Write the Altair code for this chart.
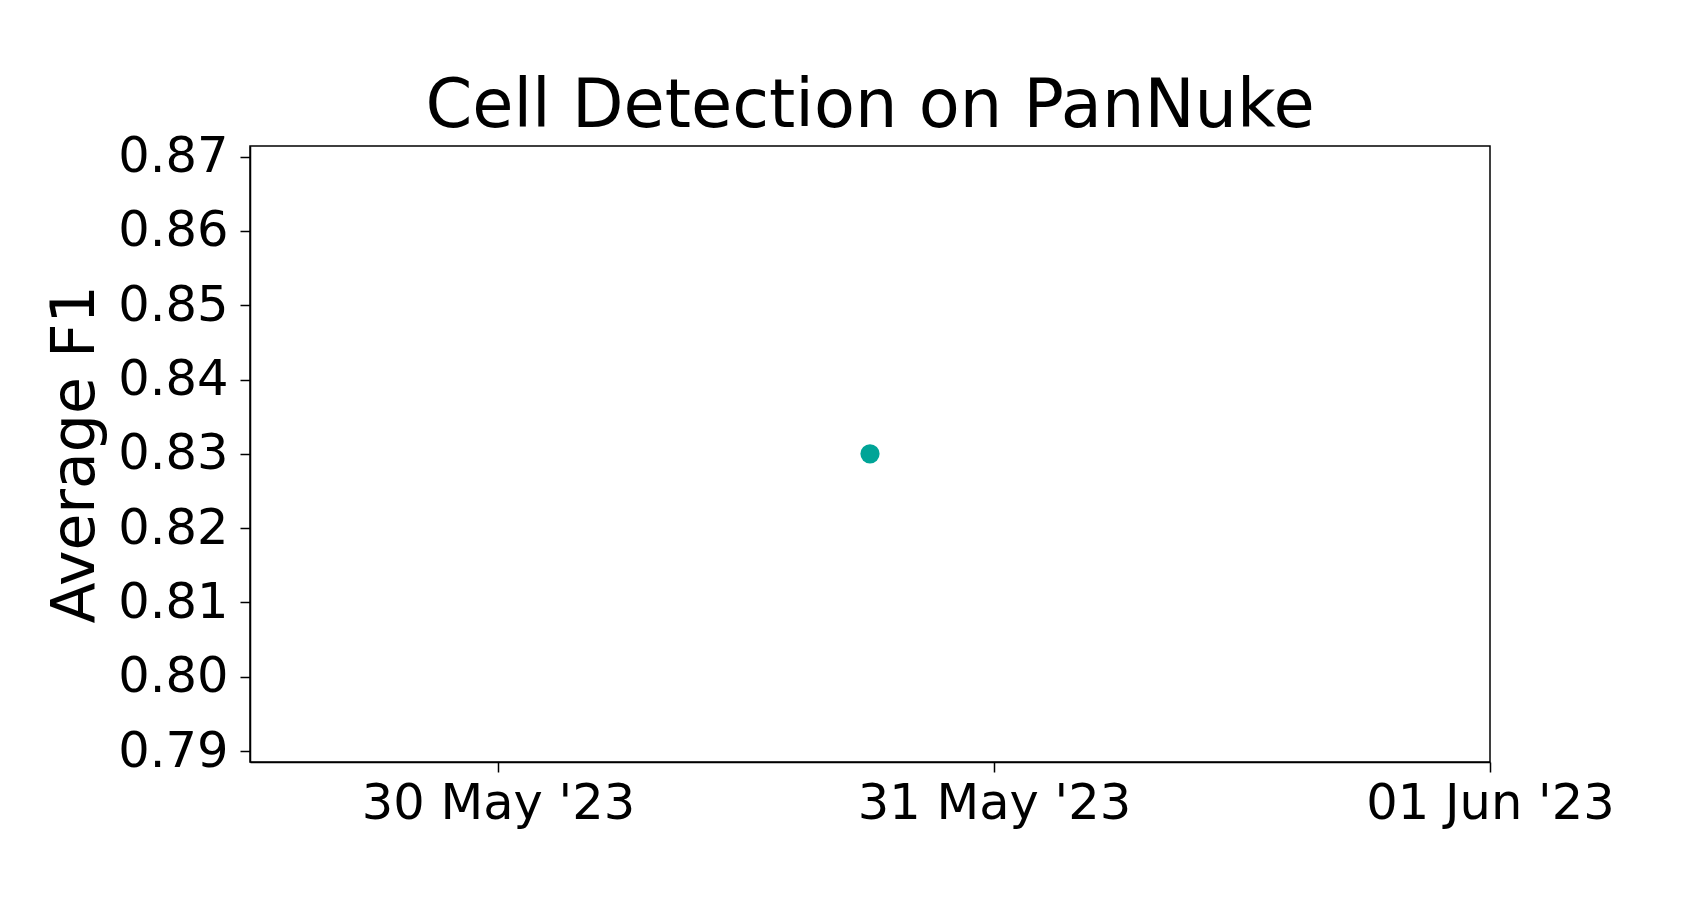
import altair as alt
import pandas as pd

dates = ["2023-05-30T18:00:00Z"]
scores = [0.83]
y_ticks = [0.79, 0.80, 0.81, 0.82, 0.83, 0.84, 0.85, 0.86, 0.87]
x_tick_days = [(5, 30), (5, 31), (6, 1)]

df = pd.DataFrame({"date": dates, "f1": scores})

x_vals = [alt.DateTime(year=2023, month=m, date=d, utc=True) for m, d in x_tick_days]
x_domain = [alt.DateTime(year=2023, month=5, date=29, hours=12, utc=True),
            alt.DateTime(year=2023, month=6, date=1, utc=True)]

FONT = "DejaVu Sans"

chart = alt.Chart(df).mark_circle(size=370, opacity=1, color="#00a497").encode(
    x=alt.X("date:T",
            scale=alt.Scale(type="utc", domain=x_domain, nice=False),
            axis=alt.Axis(values=x_vals,
                          labelExpr="utcFormat(datum.value, \"%d %b '%y\")",
                          title=None, grid=False, labelFontSize=49.5, labelFont=FONT,
                          labelColor="black", tickColor="black", tickSize=10,
                          tickWidth=1.5, domainColor="black", domainWidth=1.5,
                          labelPadding=7, labelFlush=False, labelOverlap=False,
                          labelLimit=1000)),
    y=alt.Y("f1:Q",
            scale=alt.Scale(domain=[0.78852, 0.87144], nice=False, zero=False),
            axis=alt.Axis(values=y_ticks, format=".2f", title="Average F1",
                          titleFontSize=60, titleFont=FONT, titleFontWeight="normal",
                          titleColor="black", titlePadding=11,
                          grid=False, labelFontSize=49.5, labelFont=FONT,
                          labelColor="black", tickColor="black", tickSize=10,
                          tickWidth=1.5, domainColor="black", domainWidth=1.5,
                          labelPadding=12, labelFlush=False, labelOverlap=False)),
).properties(
    width=1240,
    height=616,
    title=alt.TitleParams("Cell Detection on PanNuke", fontSize=67, font=FONT,
                          fontWeight="normal", color="black", offset=-9),
    autosize=alt.AutoSizeParams(type="none"),
    padding={"left": 242, "top": 138, "right": 180, "bottom": 120},
).configure_view(stroke="black", strokeWidth=1.5)

chart.save("out.html", embed_options={"renderer": "svg", "actions": False})
